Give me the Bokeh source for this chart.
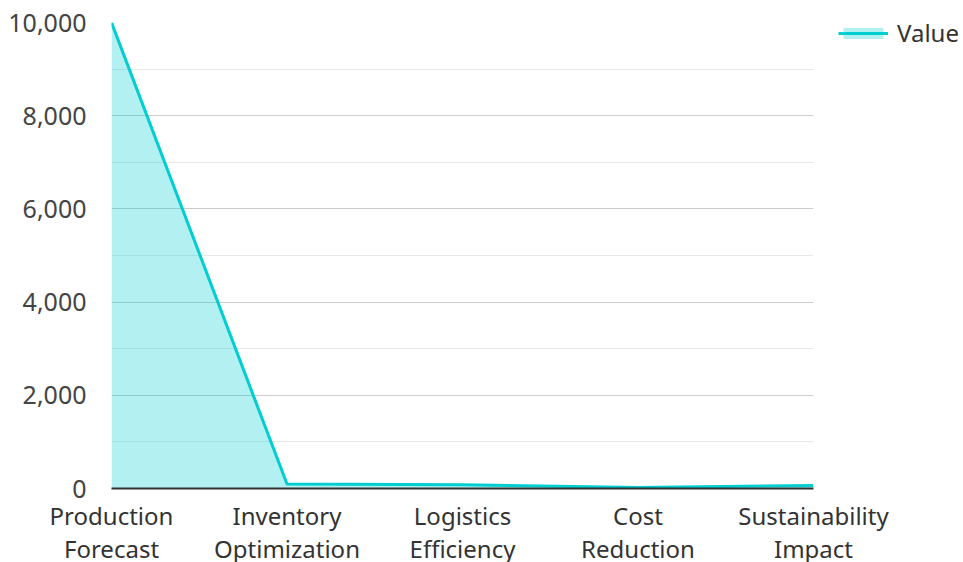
from bokeh.plotting import figure
from bokeh.models import FixedTicker, Legend, LegendItem, Range1d, ColumnDataSource, NumeralTickFormatter
from bokeh.embed import file_html
from bokeh.resources import INLINE

categories = ["Production\nForecast", "Inventory\nOptimization", "Logistics\nEfficiency", "Cost\nReduction", "Sustainability\nImpact"]
values = [10000, 95, 80, 20, 65]
y_ticks = [0, 2000, 4000, 6000, 8000, 10000]

xs = list(range(len(categories)))
src = ColumnDataSource(dict(x=xs, y=values, base=[0] * len(values)))

FONT = "Noto Sans"
p = figure(frame_width=702, frame_height=466, output_backend="svg", toolbar_location=None,
           x_range=Range1d(0, len(categories) - 1), y_range=Range1d(0, 10000),
           min_border_left=111, min_border_right=150, min_border_top=22, min_border_bottom=74)
p.outline_line_color = None

area = p.varea(x="x", y1="base", y2="y", source=src, fill_color="#00CED1", fill_alpha=0.3)
line = p.line(x="x", y="y", source=src, line_color="#00CED1", line_width=3)

p.xaxis.ticker = FixedTicker(ticks=xs)
p.xaxis.major_label_overrides = {i: c for i, c in enumerate(categories)}
p.xaxis.axis_line_color = "#333333"
p.xaxis.axis_line_width = 2
p.xaxis.major_tick_line_color = None
p.xaxis.minor_tick_line_color = None
p.xaxis.major_tick_out = 0
p.xaxis.major_tick_in = 0
p.xaxis.major_label_text_font = FONT
p.xaxis.major_label_text_font_size = "24px"
p.xaxis.major_label_text_line_height = 1.0
p.xaxis.major_label_text_color = "#333333"
p.xaxis.major_label_standoff = 10

p.yaxis.ticker = FixedTicker(ticks=y_ticks, minor_ticks=[1000, 3000, 5000, 7000, 9000])
p.yaxis.formatter = NumeralTickFormatter(format="0,0")
p.yaxis.axis_line_color = None
p.yaxis.major_tick_line_color = None
p.yaxis.minor_tick_line_color = None
p.yaxis.major_tick_out = 0
p.yaxis.major_tick_in = 0
p.yaxis.major_label_text_font = FONT
p.yaxis.major_label_text_font_size = "25px"
p.yaxis.major_label_text_color = "#444444"
p.yaxis.major_label_standoff = 21

p.xgrid.grid_line_color = None
p.ygrid.grid_line_color = "#cccccc"
p.ygrid.grid_line_width = 1
p.ygrid.minor_grid_line_color = "#e8e8e8"

legend = Legend(items=[LegendItem(label="Value", renderers=[area, line])],
                location=(25, 439), orientation="vertical",
                background_fill_alpha=0, border_line_color=None,
                label_text_font=FONT, label_text_font_size="24px", label_text_color="#333333",
                glyph_width=50, glyph_height=14, label_standoff=9, padding=0, margin=0)
p.add_layout(legend, "right")

open("out.html", "w").write(file_html(p, INLINE))
